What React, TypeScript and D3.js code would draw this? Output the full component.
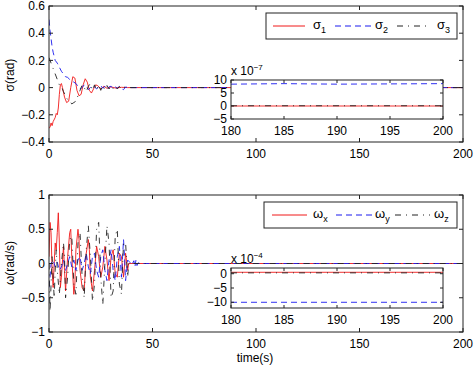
import React, { useEffect, useRef } from "react";
import * as d3 from "d3";

// ---- data ----
const xTicks = [0, 50, 100, 150, 200];
const sigmaTicks = [-0.4, -0.2, 0, 0.2, 0.4, 0.6];
const omegaTicks = [-1, -0.5, 0, 0.5, 1];
const insetXTicks = [180, 185, 190, 195, 200];
const sigmaInsetTicks = [-5, 0, 5, 10];
const omegaInsetTicks = [-10, -5, 0];

const sigma1: [number, number][] = [
  [0, -0.3], [0.5, -0.29], [1, -0.26], [1.5, -0.28], [2, -0.25], [3, -0.22], [3.5, -0.19],
  [4, -0.2], [4.5, -0.15], [5, -0.05], [5.5, 0.02], [6, 0.03], [6.5, 0.0], [7.5, -0.07],
  [8.5, -0.11], [9.5, -0.1], [10.5, 0.0], [11.5, 0.08], [12.5, 0.07], [13.5, -0.02],
  [14.5, -0.06], [15.5, -0.05], [16.5, 0.02], [17.5, 0.065], [18.5, 0.04], [19.5, -0.02],
  [20.5, -0.04], [21.5, -0.01], [22.5, 0.02], [23.5, 0.015], [25, -0.01], [26.5, 0.01],
  [28, -0.005], [30, 0.005], [32, -0.003], [35, 0.002], [38, 0], [200, 0],
];
const sigma2: [number, number][] = [
  [0, 0.5], [0.5, 0.42], [1, 0.36], [1.5, 0.3], [2, 0.26], [3, 0.2], [4, 0.18], [5, 0.15],
  [6, 0.12], [7, 0.1], [8, 0.08], [9, 0.075], [10, 0.06], [11, 0.05], [12, 0.04], [13, 0.03],
  [14, 0.01], [15, -0.01], [16, 0.0], [17, 0.02], [18, 0.01], [19, -0.015], [20, 0.0],
  [21, 0.015], [22, 0.005], [23, -0.01], [24, 0.01], [25, 0.015], [26, -0.005], [27, 0.01],
  [28, -0.01], [29, 0.005], [30, 0.01], [31, -0.01], [32, 0.005], [33, -0.005], [34, 0.008],
  [35, -0.01], [36, -0.015], [37, 0.005], [38, 0], [200, 0],
];
const sigma3: [number, number][] = [
  [0, 0.22], [1, 0.18], [2, 0.14], [3, 0.1], [4, 0.06], [5, 0.02], [6, 0.01], [7, -0.03],
  [8, -0.06], [9, -0.09], [10, -0.1], [11, -0.12], [12, -0.11], [13, -0.1], [14, -0.06],
  [15, -0.02], [16, 0.02], [17, 0.0], [18, -0.03], [19, 0.01], [20, 0.03], [21, -0.02],
  [22, 0.02], [23, -0.02], [24, 0.02], [25, -0.02], [26, 0.015], [27, -0.015], [28, 0.015],
  [29, -0.01], [30, 0.01], [31, -0.01], [32, 0.01], [33, -0.01], [34, 0.008], [35, -0.008],
  [36, 0.005], [37, 0], [200, 0],
];

const omegaX: [number, number][] = [
  [0, 0.1], [0.5, 0.6], [1, 0.45], [1.5, -0.1], [2, -0.35], [2.5, 0.0], [3, 0.3], [3.5, 0.2],
  [4, 0.45], [4.5, 0.74], [5, 0.3], [5.5, -0.35], [6, -0.2], [7, 0.25], [7.5, -0.1], [8, -0.4],
  [9, 0.1], [10, 0.45], [10.5, 0.5], [11, 0.1], [12, -0.45], [12.5, -0.3], [13, 0.2], [14, 0.5],
  [14.5, 0.35], [15, -0.1], [16, -0.35], [17, -0.4], [18, 0.15], [19, 0.35], [19.5, 0.2],
  [20, -0.2], [21, -0.4], [22, -0.1], [23, 0.25], [24, 0.1], [25, -0.2], [26, -0.05], [27, 0.25],
  [28, 0.05], [29, -0.25], [30, 0.1], [31, 0.2], [32, -0.15], [33, -0.2], [34, 0.15], [35, 0.1],
  [36, -0.2], [37, 0.15], [38, -0.1], [38.5, 0], [200, 0],
];
const omegaY: [number, number][] = [
  [0, -0.35], [0.5, -0.2], [1, 0.0], [2, 0.05], [3, -0.05], [4, 0.02], [5, -0.1], [6, -0.05],
  [7, 0.05], [8, -0.1], [9, 0.0], [10, 0.1], [11, -0.05], [12, 0.05], [13, -0.1], [14, 0.05],
  [15, 0.1], [16, -0.1], [17, 0.0], [18, 0.15], [19, -0.05], [20, -0.15], [21, 0.1], [22, 0.15],
  [23, -0.1], [24, -0.2], [25, 0.1], [26, 0.2], [27, -0.1], [28, -0.25], [29, 0.05], [30, 0.2],
  [31, -0.1], [32, -0.25], [33, 0.1], [34, 0.25], [35, -0.2], [36, 0.35], [36.5, 0.1],
  [37, -0.25], [38, 0.05], [39, 0.02], [40, -0.02], [41, 0.04], [41.5, -0.05], [42, 0.05],
  [42.5, -0.03], [43, 0.01], [44, 0], [200, 0],
];
const omegaZ: [number, number][] = [
  [0, 0], [0.5, -0.7], [1, -0.3], [1.5, 0.1], [2, -0.2], [2.5, -0.5], [3, -0.1], [3.5, 0.2],
  [4, -0.1], [5, -0.45], [6, 0.0], [7, 0.3], [7.5, 0.1], [8, -0.5], [9, -0.2], [10, 0.35],
  [11, 0.4], [12, -0.3], [13, -0.45], [14, 0.3], [15, 0.45], [16, -0.2], [17, -0.5], [18, 0.2],
  [19, 0.55], [20, 0.1], [21, -0.55], [22, -0.3], [23, 0.5], [24, 0.6], [25, -0.2], [26, -0.6],
  [27, 0.0], [28, 0.55], [29, 0.3], [30, -0.5], [31, -0.4], [32, 0.4], [33, 0.5], [34, -0.3],
  [35, -0.45], [36, 0.3], [37, 0.3], [38, -0.2], [38.5, 0], [200, 0],
];

// zoomed tails, t in [180, 200]
const sigma1Inset: [number, number][] = [[180, 0], [190, 0], [200, 0]];
const sigma2Inset: [number, number][] = [[180, 8.4], [185, 8.6], [190, 8.4], [195, 8.5], [200, 8.6]];
const sigma3Inset: [number, number][] = [[180, 0.1], [190, 0.1], [200, 0.1]];
const omegaXInset: [number, number][] = [[180, 0.5], [190, 0.5], [200, 0.5]];
const omegaYInset: [number, number][] = [[180, -10], [190, -10], [200, -10]];
const omegaZInset: [number, number][] = [[180, 0.3], [190, 0.3], [200, 0.3]];

const FONT = '"Liberation Sans", Arial, sans-serif';
const styles = [
  { color: "#f01818", dash: null },
  { color: "#1a1aee", dash: "6,4" },
  { color: "#222222", dash: "6,5,1,5" },
];

const App = () => {
  const ref = useRef<SVGSVGElement>(null);

  useEffect(() => {
    const svg = d3.select(ref.current);
    svg.selectAll("*").remove();

    const x = d3.scaleLinear().domain([0, 200]).range([49, 463]);
    const xIn = d3.scaleLinear().domain([180, 200]).range([231, 443]);
    const fmt = (v: number) => (v < 0 ? "\u2212" + Math.abs(v) : String(v));

    // box with inward ticks on all four sides
    const drawBox = (xs: any, ys: any, xt: number[], yt: number[], tl: number) => {
      const [x0, x1] = xs.range();
      const [y0, y1] = ys.range(); // y0 bottom, y1 top
      const g = svg.append("g");
      g.append("rect").attr("x", x0).attr("y", y1).attr("width", x1 - x0).attr("height", y0 - y1)
        .attr("fill", "none").attr("stroke", "#222").attr("stroke-width", 1);
      xt.forEach((t) => {
        const px = xs(t);
        g.append("line").attr("x1", px).attr("x2", px).attr("y1", y0).attr("y2", y0 - tl).attr("stroke", "#222");
        g.append("line").attr("x1", px).attr("x2", px).attr("y1", y1).attr("y2", y1 + tl).attr("stroke", "#222");
        g.append("text").attr("x", px).attr("y", y0 + 16).attr("text-anchor", "middle")
          .attr("font-family", FONT).attr("font-size", 12).text(fmt(t));
      });
      yt.forEach((t) => {
        const py = ys(t);
        g.append("line").attr("x1", x0).attr("x2", x0 + tl).attr("y1", py).attr("y2", py).attr("stroke", "#222");
        g.append("line").attr("x1", x1).attr("x2", x1 - tl).attr("y1", py).attr("y2", py).attr("stroke", "#222");
        g.append("text").attr("x", x0 - 4).attr("y", py).attr("dy", "0.35em").attr("text-anchor", "end")
          .attr("font-family", FONT).attr("font-size", 12).text(fmt(t));
      });
    };

    const drawLines = (xs: any, ys: any, series: [number, number][][], id: string) => {
      const [x0, x1] = xs.range();
      const [y0, y1] = ys.range();
      svg.append("clipPath").attr("id", id).append("rect")
        .attr("x", x0).attr("y", y1).attr("width", x1 - x0).attr("height", y0 - y1);
      const line = d3.line<[number, number]>().x((d) => xs(d[0])).y((d) => ys(d[1]));
      const g = svg.append("g").attr("clip-path", `url(#${id})`);
      series.forEach((s, i) => {
        g.append("path").attr("d", line(s)).attr("fill", "none")
          .attr("stroke", styles[i].color).attr("stroke-width", 0.9)
          .attr("stroke-dasharray", styles[i].dash);
      });
    };

    const drawLegend = (x0: number, y0: number, w: number, h: number, sym: string, subs: string[], lx: number[][]) => {
      const g = svg.append("g");
      g.append("rect").attr("x", x0).attr("y", y0).attr("width", w).attr("height", h)
        .attr("fill", "white").attr("stroke", "#222");
      const cy = Math.round(y0 + h / 2);
      subs.forEach((s, i) => {
        g.append("line").attr("x1", lx[i][0]).attr("x2", lx[i][1]).attr("y1", cy).attr("y2", cy)
          .attr("stroke", styles[i].color).attr("stroke-width", 1)
          .attr("stroke-dasharray", styles[i].dash);
        const t = g.append("text").attr("x", lx[i][2]).attr("y", cy + 3)
          .attr("font-family", FONT).attr("font-size", 13);
        t.append("tspan").text(sym);
        t.append("tspan").attr("dy", 4).attr("font-size", 9).text(s);
      });
    };

    const drawInset = (ys: any, yt: number[], series: [number, number][][], exp: string, id: string) => {
      const [y0, y1] = ys.range();
      svg.append("rect").attr("x", 231).attr("y", y1).attr("width", 212).attr("height", y0 - y1).attr("fill", "white");
      drawLines(xIn, ys, series, id);
      drawBox(xIn, ys, insetXTicks, yt, 3);
      const t = svg.append("text").attr("x", 231).attr("y", y1 - 5)
        .attr("font-family", FONT).attr("font-size", 12);
      t.append("tspan").text("x 10");
      t.append("tspan").attr("dy", -5).attr("font-size", 8).text(exp);
    };

    // ---- top panel: sigma ----
    const ySig = d3.scaleLinear().domain([-0.4, 0.6]).range([142, 6]);
    drawLines(x, ySig, [sigma1, sigma2, sigma3], "clipSig");
    drawBox(x, ySig, xTicks, sigmaTicks, 4);
    drawLegend(266, 13, 191, 26, "\u03c3", ["1", "2", "3"], [[273, 305, 313], [335, 372, 375], [397, 430, 437]]);
    const ySigIn = d3.scaleLinear().domain([-5, 10]).range([119, 80]);
    drawInset(ySigIn, sigmaInsetTicks, [sigma1Inset, sigma2Inset, sigma3Inset], "\u22127", "clipSigIn");
    svg.append("text").attr("transform", "translate(10,75) rotate(-90)").attr("text-anchor", "middle")
      .attr("dy", "0.35em").attr("font-family", FONT).attr("font-size", 12).text("\u03c3(rad)");

    // ---- bottom panel: omega ----
    const yOm = d3.scaleLinear().domain([-1, 1]).range([332, 195]);
    drawLines(x, yOm, [omegaX, omegaY, omegaZ], "clipOm");
    drawBox(x, yOm, xTicks, omegaTicks, 4);
    drawLegend(264, 202, 193, 26, "\u03c9", ["x", "y", "z"], [[272, 307, 313], [336, 372, 375], [395, 430, 434]]);
    const yOmIn = d3.scaleLinear().domain([-12, 2]).range([308, 268]);
    drawInset(yOmIn, omegaInsetTicks, [omegaXInset, omegaYInset, omegaZInset], "\u22124", "clipOmIn");
    svg.append("text").attr("transform", "translate(10,263) rotate(-90)").attr("text-anchor", "middle")
      .attr("dy", "0.35em").attr("font-family", FONT).attr("font-size", 12).text("\u03c9(rad/s)");
    svg.append("text").attr("x", 255).attr("y", 362).attr("text-anchor", "middle")
      .attr("font-family", FONT).attr("font-size", 12).text("time(s)");
  }, []);

  return (
    <svg ref={ref} width={474} height={367}
      style={{ position: "absolute", left: 0, top: 0, background: "white" }} />
  );
};

export default App;
